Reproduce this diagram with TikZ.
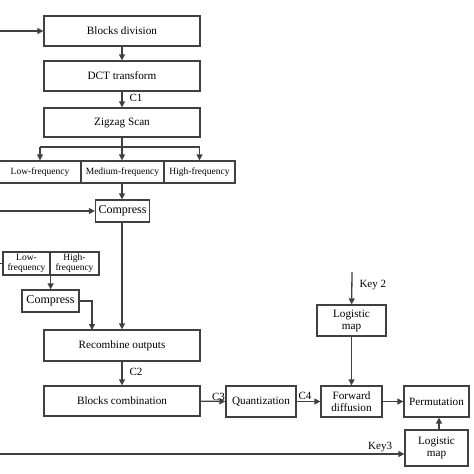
\documentclass[tikz,border=0pt]{standalone}
\usepackage{fontspec}
\setmainfont{Liberation Serif}
\usetikzlibrary{arrows.meta}
\definecolor{ln}{HTML}{404040}
\begin{document}
\begin{tikzpicture}[x=1pt,y=-1pt,
  box/.style={draw=ln,line width=1.3pt,rectangle,inner sep=0pt,align=center,font=\fontsize{11.2}{12}\selectfont},
  sbox/.style={box,font=\fontsize{9.5}{10}\selectfont},
  arr/.style={draw=ln,line width=1.3pt,-{Triangle[length=6pt,width=6pt]}},
  ln/.style={draw=ln,line width=1.3pt},
  lab/.style={font=\fontsize{11}{12}\selectfont,inner sep=1pt}]
\useasboundingbox (0,0) rectangle (474,474);
\node[box,minimum width=156pt,minimum height=30pt] (bd) at (122,31) {Blocks division};
\node[box,minimum width=156pt,minimum height=30pt] (dct) at (122,76) {DCT transform};
\node[box,minimum width=156pt,minimum height=29pt] (zz) at (122,122.5) {Zigzag Scan};
\node[sbox,minimum width=82pt,minimum height=22pt] (lf) at (40,172) {Low-frequency};
\node[sbox,minimum width=83pt,minimum height=22pt] (mf) at (122.5,172) {Medium-frequency};
\node[sbox,minimum width=71pt,minimum height=22pt] (hf) at (199.5,172) {High-frequency};
\node[box,font=\fontsize{12}{13}\selectfont,minimum width=54pt,minimum height=22pt] (c1) at (122.5,211) {Compress};
\node[sbox,minimum width=47pt,minimum height=23pt] (lf2) at (26.5,263.5) {Low-\\frequency};
\node[sbox,minimum width=49pt,minimum height=23pt] (hf2) at (74.5,263.5) {High-\\frequency};
\node[box,font=\fontsize{12}{13}\selectfont,minimum width=57pt,minimum height=22pt] (c2) at (50.5,301) {Compress};
\node[box,minimum width=156pt,minimum height=31pt] (ro) at (122,345.5) {Recombine outputs};
\node[box,minimum width=156pt,minimum height=30pt] (bc) at (122,401) {Blocks combination};
\node[box,minimum width=70pt,minimum height=31pt] (q) at (261,401.5) {Quantization};
\node[box,minimum width=61pt,minimum height=31pt] (fd) at (351.5,401.5) {Forward\\diffusion};
\node[box,minimum width=65pt,minimum height=31pt] (p) at (436.5,401.5) {Permutation};
\node[box,minimum width=69pt,minimum height=31pt] (lm1) at (351.5,320.5) {Logistic\\map};
\node[box,minimum width=63pt,minimum height=36pt] (lm2) at (436.5,448) {Logistic\\map};
\coordinate (in1) at (0,31);
\coordinate (in2) at (0,211);
\coordinate (in3) at (0,263.5);
\coordinate (in4) at (0,454);
\coordinate (k2) at (352,272);
\coordinate (br) at (122,147);
\draw[arr] (in1) -- (bd);
\draw[arr] (bd) -- (dct);
\draw[arr] (dct) -- node[lab,right,pos=0.4,xshift=6pt] {C1} (zz);
\draw[ln] (zz.south) -- (br);
\draw[ln] (lf.north |- br) -- (hf.north |- br);
\draw[arr] (lf.north |- br) -- (lf.north);
\draw[arr] (br) -- (br |- mf.north);
\draw[arr] (hf.north |- br) -- (hf.north);
\draw[arr] (mf.south -| br) -- (c1.north -| br);
\draw[arr] (in2) -- (c1.west);
\draw[arr] (c1.south -| br) -- (ro.north -| br);
\draw[ln] (in3) -- (lf2.west);
\draw[arr] (lf2.south east) -- (c2.north -| lf2.south east);
\draw[arr] (c2.east) -| (92,330);
\draw[arr] (ro) -- node[lab,right,pos=0.45,xshift=6pt] {C2} (bc);
\draw[arr] (bc) -- node[lab,above,pos=0.72,yshift=-1pt] {C3} (q);
\draw[arr] (q) -- node[lab,above,pos=0.35] {C4} (fd);
\draw[arr] (fd) -- (p);
\draw[arr] (k2) -- node[lab,right,pos=0.4,xshift=6pt] {Key 2} (lm1);
\draw[arr] (lm1) -- (fd);
\draw[arr] (in4) -- node[lab,above,pos=0.94] {Key3} (lm2.west |- in4);
\draw[arr] (lm2.north -| 439,0) -- (p.south -| 439,0);
\end{tikzpicture}
\end{document}
